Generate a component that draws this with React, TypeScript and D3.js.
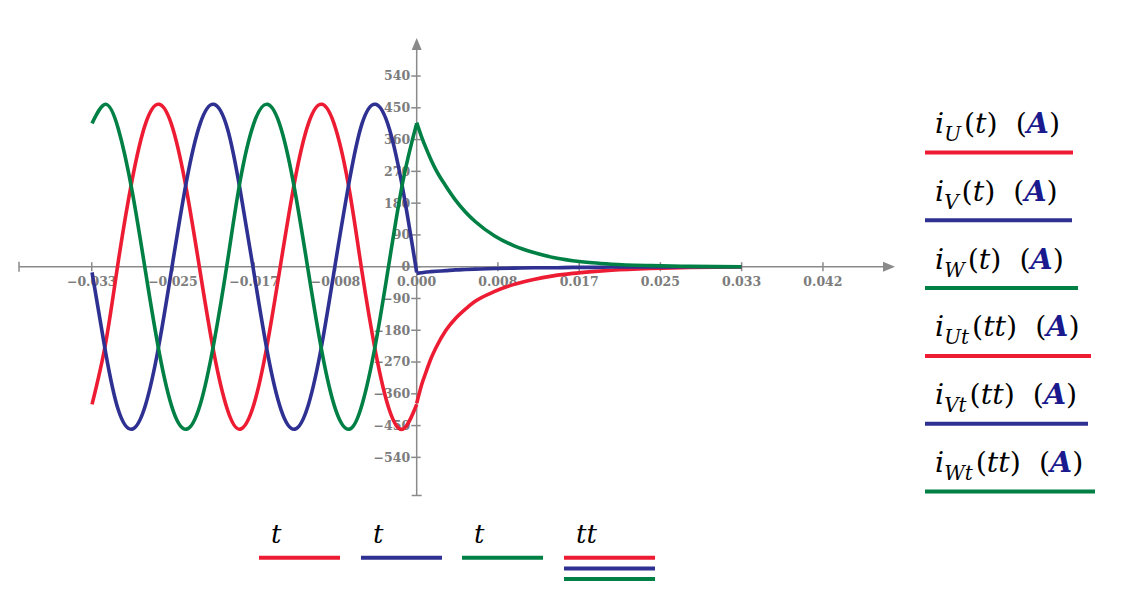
import * as d3 from "d3";

// steady-state phase currents, t from -1/30 s to 0 (step 1/720 s)
const tPhase = [
  -0.0333, -0.0319, -0.0306, -0.0292, -0.0278, -0.0264, -0.025, -0.0236, -0.0222,
  -0.0208, -0.0194, -0.0181, -0.0167, -0.0153, -0.0139, -0.0125, -0.0111, -0.0097,
  -0.0083, -0.0069, -0.0056, -0.0042, -0.0028, -0.0014, 0,
];
const iU = [
  -390, -216, 16, 244, 406, 460, 390, 216, -16, -244, -406, -460, -390,
  -216, 16, 244, 406, 460, 390, 216, -16, -244, -406, -460, -390,
];
const iV = [
  -16, -244, -406, -460, -390, -216, 16, 244, 406, 460, 390, 216, -16,
  -244, -406, -460, -390, -216, 16, 244, 406, 460, 390, 216, -16,
];
const iW = [
  406, 460, 390, 216, -16, -244, -406, -460, -390, -216, 16, 244, 406,
  460, 390, 216, -16, -244, -406, -460, -390, -216, 16, 244, 406,
];

// transient after t = 0
const tt = [
  0, 0.0005, 0.001, 0.0015, 0.002, 0.003, 0.004, 0.005, 0.006, 0.008, 0.01,
  0.012, 0.014, 0.016, 0.018, 0.02, 0.024, 0.028, 0.0333,
];
const iUt = [-387, -335, -295, -258, -228, -180, -146, -120, -98, -70, -50, -36, -26, -19, -14, -10, -5, -2, -1];
const iVt = [-19, -17, -15, -14, -13, -11, -9, -8, -7, -5, -4, -3, -3, -2, -2, -1, -1, 0, 0];
const iWt = [408, 368, 333, 301, 273, 228, 188, 155, 128, 87, 59, 40, 26, 17, 11, 7, 3, 1, 0];

const xTicks = [-0.03333, -0.025, -0.01667, -0.00833, 0, 0.00833, 0.01667, 0.025, 0.03333, 0.04167];
const xTickLabels = ["−0.033", "−0.025", "−0.017", "−0.008", "0.000", "0.008", "0.017", "0.025", "0.033", "0.042"];
const yTicks = [540, 450, 360, 270, 180, 90, 0, -90, -180, -270, -360, -450, -540];
const yTickLabels = ["540", "450", "360", "270", "180", "90", "0", "−90", "−180", "−270", "−360", "−450", "−540"];

const RED = "#ed1c33";
const BLUE = "#2e3192";
const GREEN = "#008045";
const AXIS = "#8a8a8a";
const LABEL = "#7c7c7c";

const legendRows = [
  { sub: "U", arg: "t", color: RED, lineEnd: 1073 },
  { sub: "V", arg: "t", color: BLUE, lineEnd: 1072 },
  { sub: "W", arg: "t", color: GREEN, lineEnd: 1078 },
  { sub: "Ut", arg: "tt", color: RED, lineEnd: 1091 },
  { sub: "Vt", arg: "tt", color: BLUE, lineEnd: 1088 },
  { sub: "Wt", arg: "tt", color: GREEN, lineEnd: 1095 },
];

const bottomLegend = [
  { label: "t", colors: [RED], x: 259 },
  { label: "t", colors: [BLUE], x: 361 },
  { label: "t", colors: [GREEN], x: 462 },
  { label: "tt", colors: [RED, BLUE, GREEN], x: 564 },
];

export default function App() {
  const width = 1125;
  const height = 592;

  const x = d3.scaleLinear().domain([-0.04079, 0.04906]).range([19, 895]);
  const y = d3.scaleLinear().domain([-648, 648]).range([495.5, 37.9]);

  const x0 = x(0);
  const y0 = y(0);

  const sine = d3
    .line<[number, number]>()
    .x((d) => x(d[0]))
    .y((d) => y(d[1]))
    .curve(d3.curveNatural);
  const decay = d3
    .line<[number, number]>()
    .x((d) => x(d[0]))
    .y((d) => y(d[1]))
    .curve(d3.curveMonotoneX);

  const series = [
    { d: sine(tPhase.map((t, i) => [t, iU[i]])), color: RED },
    { d: sine(tPhase.map((t, i) => [t, iV[i]])), color: BLUE },
    { d: sine(tPhase.map((t, i) => [t, iW[i]])), color: GREEN },
    { d: decay(tt.map((t, i) => [t, iUt[i]])), color: RED },
    { d: decay(tt.map((t, i) => [t, iVt[i]])), color: BLUE },
    { d: decay(tt.map((t, i) => [t, iWt[i]])), color: GREEN },
  ];

  const xEnd = x.range()[1];
  const yTop = y.range()[1];
  const yBottom = y.range()[0];

  return (
    <svg
      width={width}
      height={height}
      style={{ position: "absolute", left: 0, top: 0, background: "#fff" }}
    >
      {/* axes */}
      <g stroke={AXIS} strokeWidth={1.5} fill="none">
        <line x1={x.range()[0]} y1={y0} x2={xEnd - 8} y2={y0} />
        <line x1={x0} y1={yBottom} x2={x0} y2={yTop + 8} />
        <line x1={x.range()[0]} y1={y0 - 5} x2={x.range()[0]} y2={y0 + 5} />
        <line x1={x0 - 5} y1={yBottom} x2={x0 + 5} y2={yBottom} />
        {xTicks.map((t) => (
          <line key={`xt${t}`} x1={x(t)} y1={y0 - 4.5} x2={x(t)} y2={y0 + 4.5} />
        ))}
        {yTicks.map((v) => (
          <line key={`yt${v}`} x1={x0 - 5.5} y1={y(v)} x2={x0 + 4} y2={y(v)} />
        ))}
      </g>
      <path
        d={`M${xEnd},${y0} L${xEnd - 12},${y0 - 5} L${xEnd - 12},${y0 + 5} Z`}
        fill={AXIS}
      />
      <path
        d={`M${x0},${yTop} L${x0 - 5},${yTop + 12} L${x0 + 5},${yTop + 12} Z`}
        fill={AXIS}
      />

      <g fontFamily="DejaVu Serif" fontWeight="bold" fontSize={12.5} fill={LABEL}>
        {xTicks.map((t, i) => (
          <text key={`xl${t}`} x={x(t)} y={y0 + 19.5} textAnchor="middle">
            {xTickLabels[i]}
          </text>
        ))}
        {yTicks.map((v, i) => (
          <text key={`yl${v}`} x={x0 - 6.5} y={y(v) + 4.4} textAnchor="end">
            {yTickLabels[i]}
          </text>
        ))}
      </g>

      {/* curves */}
      <g fill="none" strokeWidth={3.6} strokeLinejoin="round">
        {series.map((s, i) => (
          <path key={i} d={s.d ?? ""} stroke={s.color} />
        ))}
      </g>

      {/* right legend */}
      <g fontFamily="DejaVu Serif" fontSize={28.5} fill="#000">
        {legendRows.map((r, i) => {
          const base = 133 + i * 67.8;
          return (
            <g key={`lg${i}`}>
              <text x={935} y={base}>
                <tspan fontStyle="italic">i</tspan>
                <tspan fontStyle="italic" fontSize={20} dy={8}>
                  {r.sub}
                </tspan>
                <tspan dy={-8} dx={3}>(</tspan>
                <tspan fontStyle="italic">{r.arg}</tspan>
                <tspan>)</tspan>
                <tspan dx={18}>(</tspan>
                <tspan fontStyle="italic" fontWeight="bold" fill="#1a1a8e">
                  A
                </tspan>
                <tspan>)</tspan>
              </text>
              <line
                x1={925}
                x2={r.lineEnd}
                y1={base + 19.5}
                y2={base + 19.5}
                stroke={r.color}
                strokeWidth={4}
              />
            </g>
          );
        })}
      </g>

      {/* bottom legend */}
      <g fontFamily="DejaVu Serif" fontSize={26} fontStyle="italic" fill="#000">
        {bottomLegend.map((b, i) => (
          <g key={`bl${i}`}>
            <text x={b.x + 12} y={543}>
              {b.label}
            </text>
            {b.colors.map((c, j) => (
              <line
                key={c}
                x1={b.x}
                x2={b.x + 91 - (b.colors.length === 1 ? 10 : 0)}
                y1={557.7 + j * 10.7}
                y2={557.7 + j * 10.7}
                stroke={c}
                strokeWidth={4}
              />
            ))}
          </g>
        ))}
      </g>
    </svg>
  );
}
